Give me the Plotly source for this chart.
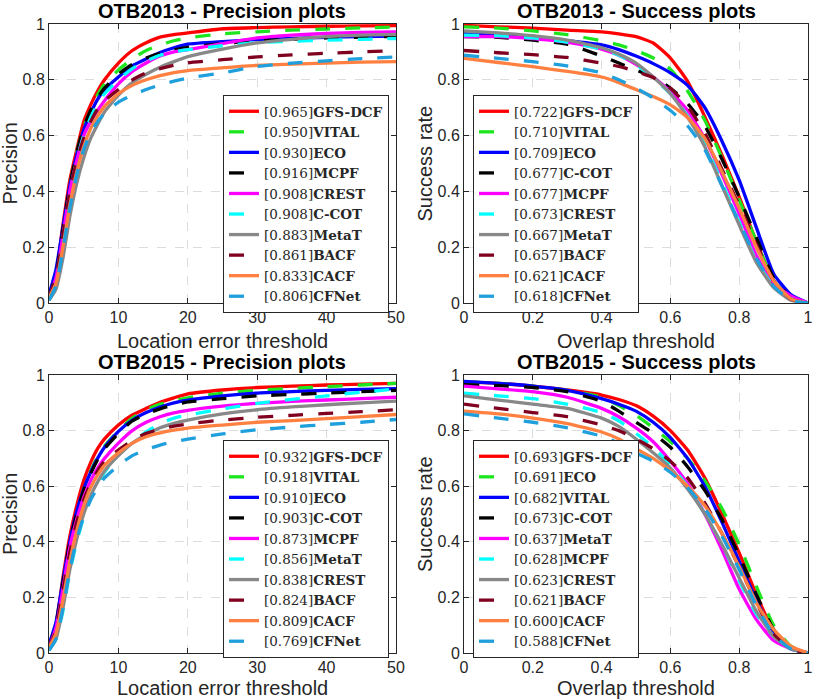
import plotly.graph_objects as go

# ---------------- DATA ----------------
PREC_T = [0, 1, 2, 3, 4, 5, 6, 7, 8, 10, 12, 14, 16, 18, 20, 25, 30, 35, 40, 45, 50]
SUCC_T = [0, 0.1, 0.2, 0.3, 0.4, 0.45, 0.5, 0.55, 0.6, 0.65, 0.7, 0.75, 0.8, 0.85, 0.9, 0.95, 1.0]

PREC_TICKS = [0, 10, 20, 30, 40, 50]
PREC_TICKTEXT = ["0", "10", "20", "30", "40", "50"]
SUCC_TICKS = [0, 0.2, 0.4, 0.6, 0.8, 1.0]
SUCC_TICKTEXT = ["0", "0.2", "0.4", "0.6", "0.8", "1"]
Y_TICKS = [0, 0.2, 0.4, 0.6, 0.8, 1.0]
Y_TICKTEXT = ["0", "0.2", "0.4", "0.6", "0.8", "1"]

# OTB2013 - Precision
P13_NAMES = ["GFS-DCF", "VITAL", "ECO", "MCPF", "CREST", "C-COT", "MetaT", "BACF", "CACF", "CFNet"]
P13_SCORES = [0.965, 0.950, 0.930, 0.916, 0.908, 0.908, 0.883, 0.861, 0.833, 0.806]
P13_CURVES = [
    [0.02, 0.10, 0.28, 0.44, 0.55, 0.65, 0.71, 0.76, 0.80, 0.86, 0.905, 0.933, 0.953, 0.962, 0.968, 0.983, 0.987, 0.99, 0.992, 0.993, 0.994],
    [0.01, 0.08, 0.25, 0.42, 0.54, 0.63, 0.69, 0.745, 0.785, 0.835, 0.875, 0.905, 0.925, 0.94, 0.95, 0.965, 0.972, 0.978, 0.982, 0.986, 0.989],
    [0.03, 0.12, 0.27, 0.42, 0.53, 0.62, 0.68, 0.73, 0.765, 0.81, 0.85, 0.875, 0.898, 0.915, 0.928, 0.937, 0.944, 0.948, 0.952, 0.955, 0.957],
    [0.02, 0.10, 0.26, 0.42, 0.54, 0.63, 0.69, 0.735, 0.77, 0.82, 0.855, 0.878, 0.895, 0.907, 0.916, 0.93, 0.94, 0.945, 0.95, 0.953, 0.956],
    [0.02, 0.09, 0.24, 0.40, 0.51, 0.60, 0.65, 0.69, 0.725, 0.785, 0.83, 0.86, 0.885, 0.90, 0.908, 0.93, 0.95, 0.96, 0.966, 0.97, 0.972],
    [0.02, 0.08, 0.23, 0.39, 0.51, 0.60, 0.665, 0.715, 0.75, 0.80, 0.84, 0.868, 0.888, 0.90, 0.908, 0.922, 0.933, 0.938, 0.942, 0.945, 0.948],
    [0.01, 0.05, 0.16, 0.31, 0.43, 0.52, 0.59, 0.64, 0.685, 0.745, 0.79, 0.82, 0.845, 0.865, 0.883, 0.91, 0.932, 0.945, 0.955, 0.96, 0.963],
    [0.02, 0.09, 0.24, 0.40, 0.51, 0.59, 0.65, 0.695, 0.725, 0.765, 0.80, 0.825, 0.84, 0.852, 0.861, 0.872, 0.882, 0.889, 0.895, 0.90, 0.905],
    [0.02, 0.07, 0.20, 0.35, 0.47, 0.56, 0.625, 0.67, 0.705, 0.75, 0.78, 0.80, 0.815, 0.826, 0.833, 0.843, 0.852, 0.856, 0.86, 0.863, 0.865],
    [0.01, 0.06, 0.19, 0.34, 0.46, 0.55, 0.61, 0.65, 0.68, 0.72, 0.745, 0.765, 0.782, 0.795, 0.806, 0.825, 0.848, 0.86, 0.868, 0.876, 0.882],
]

# OTB2013 - Success
S13_NAMES = ["GFS-DCF", "VITAL", "ECO", "C-COT", "MCPF", "CREST", "MetaT", "BACF", "CACF", "CFNet"]
S13_SCORES = [0.722, 0.710, 0.709, 0.677, 0.677, 0.673, 0.667, 0.657, 0.621, 0.618]
S13_CURVES = [
    [0.995, 0.99, 0.985, 0.978, 0.972, 0.965, 0.955, 0.932, 0.878, 0.794, 0.668, 0.53, 0.38, 0.22, 0.08, 0.02, 0],
    [0.99, 0.985, 0.975, 0.962, 0.94, 0.925, 0.905, 0.878, 0.838, 0.76, 0.655, 0.52, 0.37, 0.22, 0.08, 0.02, 0],
    [0.968, 0.962, 0.952, 0.94, 0.925, 0.908, 0.885, 0.858, 0.825, 0.78, 0.70, 0.58, 0.44, 0.27, 0.105, 0.03, 0],
    [0.955, 0.952, 0.942, 0.928, 0.885, 0.86, 0.835, 0.81, 0.77, 0.715, 0.635, 0.515, 0.38, 0.235, 0.09, 0.02, 0],
    [0.955, 0.955, 0.948, 0.935, 0.91, 0.888, 0.855, 0.81, 0.758, 0.69, 0.59, 0.46, 0.32, 0.17, 0.07, 0.025, 0],
    [0.96, 0.958, 0.95, 0.935, 0.91, 0.888, 0.855, 0.806, 0.75, 0.67, 0.57, 0.43, 0.29, 0.15, 0.06, 0.015, 0],
    [0.975, 0.968, 0.958, 0.942, 0.915, 0.892, 0.86, 0.81, 0.75, 0.665, 0.56, 0.42, 0.28, 0.145, 0.055, 0.01, 0],
    [0.905, 0.897, 0.89, 0.88, 0.86, 0.848, 0.83, 0.808, 0.77, 0.705, 0.61, 0.48, 0.35, 0.21, 0.08, 0.015, 0],
    [0.877, 0.862, 0.847, 0.83, 0.81, 0.79, 0.765, 0.74, 0.71, 0.665, 0.59, 0.47, 0.34, 0.20, 0.08, 0.015, 0],
    [0.888, 0.877, 0.865, 0.85, 0.825, 0.80, 0.77, 0.735, 0.69, 0.635, 0.55, 0.42, 0.29, 0.16, 0.06, 0.01, 0],
]

# OTB2015 - Precision
P15_NAMES = ["GFS-DCF", "VITAL", "ECO", "C-COT", "MCPF", "MetaT", "CREST", "BACF", "CACF", "CFNet"]
P15_SCORES = [0.932, 0.918, 0.910, 0.903, 0.873, 0.856, 0.838, 0.824, 0.809, 0.769]
P15_CURVES = [
    [0.02, 0.10, 0.27, 0.42, 0.53, 0.62, 0.685, 0.735, 0.77, 0.82, 0.856, 0.88, 0.902, 0.918, 0.932, 0.946, 0.955, 0.96, 0.964, 0.967, 0.97],
    [0.02, 0.09, 0.24, 0.39, 0.50, 0.59, 0.655, 0.705, 0.745, 0.80, 0.845, 0.875, 0.895, 0.908, 0.918, 0.935, 0.945, 0.952, 0.958, 0.964, 0.97],
    [0.03, 0.11, 0.26, 0.40, 0.51, 0.59, 0.65, 0.70, 0.74, 0.797, 0.838, 0.865, 0.885, 0.90, 0.91, 0.925, 0.935, 0.94, 0.945, 0.948, 0.951],
    [0.02, 0.10, 0.25, 0.40, 0.50, 0.585, 0.645, 0.695, 0.735, 0.79, 0.835, 0.86, 0.878, 0.893, 0.903, 0.915, 0.925, 0.93, 0.935, 0.94, 0.945],
    [0.02, 0.09, 0.23, 0.38, 0.48, 0.56, 0.62, 0.665, 0.70, 0.755, 0.80, 0.83, 0.85, 0.864, 0.873, 0.888, 0.898, 0.905, 0.91, 0.915, 0.92],
    [0.01, 0.05, 0.15, 0.29, 0.40, 0.49, 0.56, 0.61, 0.65, 0.715, 0.76, 0.795, 0.825, 0.845, 0.856, 0.878, 0.898, 0.912, 0.925, 0.938, 0.95],
    [0.01, 0.05, 0.16, 0.30, 0.41, 0.50, 0.565, 0.615, 0.655, 0.71, 0.755, 0.785, 0.81, 0.826, 0.838, 0.86, 0.875, 0.885, 0.893, 0.90, 0.906],
    [0.02, 0.08, 0.22, 0.36, 0.47, 0.55, 0.61, 0.655, 0.69, 0.73, 0.765, 0.79, 0.805, 0.816, 0.824, 0.838, 0.848, 0.855, 0.862, 0.868, 0.875],
    [0.02, 0.07, 0.19, 0.33, 0.44, 0.53, 0.595, 0.64, 0.675, 0.72, 0.755, 0.778, 0.792, 0.802, 0.809, 0.82, 0.83, 0.836, 0.843, 0.85, 0.858],
    [0.01, 0.05, 0.16, 0.30, 0.41, 0.49, 0.55, 0.595, 0.63, 0.675, 0.71, 0.732, 0.748, 0.76, 0.769, 0.788, 0.803, 0.813, 0.822, 0.83, 0.84],
]

# OTB2015 - Success
S15_NAMES = ["GFS-DCF", "ECO", "VITAL", "C-COT", "MetaT", "MCPF", "CREST", "BACF", "CACF", "CFNet"]
S15_SCORES = [0.693, 0.691, 0.682, 0.673, 0.637, 0.628, 0.623, 0.621, 0.600, 0.588]
S15_CURVES = [
    [0.975, 0.97, 0.96, 0.946, 0.928, 0.912, 0.89, 0.852, 0.80, 0.73, 0.63, 0.50, 0.36, 0.21, 0.08, 0.02, 0],
    [0.975, 0.97, 0.96, 0.945, 0.92, 0.89, 0.855, 0.81, 0.76, 0.70, 0.62, 0.52, 0.39, 0.24, 0.10, 0.025, 0],
    [0.977, 0.97, 0.96, 0.945, 0.915, 0.895, 0.87, 0.83, 0.775, 0.70, 0.60, 0.47, 0.33, 0.19, 0.07, 0.015, 0],
    [0.965, 0.962, 0.955, 0.94, 0.905, 0.87, 0.83, 0.79, 0.74, 0.67, 0.585, 0.48, 0.35, 0.21, 0.085, 0.02, 0],
    [0.96, 0.95, 0.94, 0.92, 0.88, 0.85, 0.81, 0.76, 0.69, 0.61, 0.50, 0.37, 0.23, 0.12, 0.045, 0.015, 0],
    [0.935, 0.925, 0.915, 0.895, 0.865, 0.835, 0.79, 0.74, 0.675, 0.60, 0.50, 0.39, 0.26, 0.14, 0.06, 0.015, 0],
    [0.925, 0.91, 0.895, 0.88, 0.845, 0.815, 0.77, 0.72, 0.665, 0.59, 0.50, 0.39, 0.27, 0.15, 0.06, 0.015, 0],
    [0.895, 0.88, 0.865, 0.85, 0.82, 0.80, 0.77, 0.735, 0.69, 0.63, 0.54, 0.43, 0.31, 0.18, 0.07, 0.015, 0],
    [0.87, 0.86, 0.845, 0.825, 0.795, 0.77, 0.735, 0.70, 0.655, 0.60, 0.53, 0.43, 0.31, 0.18, 0.085, 0.025, 0],
    [0.86, 0.845, 0.83, 0.81, 0.78, 0.755, 0.72, 0.69, 0.65, 0.595, 0.52, 0.42, 0.30, 0.17, 0.065, 0.015, 0],
]

# ---------------- STYLE (by rank) ----------------
RANK_COLORS = ["#ff0000", "#1ee61e", "#0000ff", "#000000", "#ff00ff",
               "#00ffff", "#888888", "#800020", "#ff8040", "#1f9fdc"]
RANK_DASH = ["solid", "15px,15px", "solid", "15px,15px", "solid",
             "15px,15px", "solid", "15px,15px", "solid", "15px,15px"]

W, H = 815, 700
FONT_SANS = "Liberation Sans, Arial, sans-serif"
FONT_SERIF = "DejaVu Serif, serif"


def px_x(p):
    return p / W


def px_y(p):
    return 1 - p / H


panels = [
    dict(ax="", xd=(49, 396), yd=(24, 303), leg="legend", legpos=(223, 95),
         title="OTB2013 - Precision plots", xt="Location error threshold", yt="Precision",
         x=PREC_T, names=P13_NAMES, scores=P13_SCORES, curves=P13_CURVES,
         xr=[0, 50], xtv=PREC_TICKS, xtt=PREC_TICKTEXT, xt_off=38),
    dict(ax="2", xd=(464, 808), yd=(24, 303), leg="legend2", legpos=(473, 95),
         title="OTB2013 - Success plots", xt="Overlap threshold", yt="Success rate",
         x=SUCC_T, names=S13_NAMES, scores=S13_SCORES, curves=S13_CURVES,
         xr=[0, 1], xtv=SUCC_TICKS, xtt=SUCC_TICKTEXT, xt_off=38),
    dict(ax="3", xd=(49, 396), yd=(375, 653), leg="legend3", legpos=(223, 440),
         title="OTB2015 - Precision plots", xt="Location error threshold", yt="Precision",
         x=PREC_T, names=P15_NAMES, scores=P15_SCORES, curves=P15_CURVES,
         xr=[0, 50], xtv=PREC_TICKS, xtt=PREC_TICKTEXT, xt_off=35),
    dict(ax="4", xd=(464, 808), yd=(375, 653), leg="legend4", legpos=(473, 440),
         title="OTB2015 - Success plots", xt="Overlap threshold", yt="Success rate",
         x=SUCC_T, names=S15_NAMES, scores=S15_SCORES, curves=S15_CURVES,
         xr=[0, 1], xtv=SUCC_TICKS, xtt=SUCC_TICKTEXT, xt_off=35),
]

fig = go.Figure()
layout = dict(
    template="none",
    width=W, height=H, margin=dict(l=0, r=0, t=0, b=0, pad=0, autoexpand=False),
    paper_bgcolor="white", plot_bgcolor="white", showlegend=True,
    font=dict(family=FONT_SANS, color="#262626"),
)
annotations = []

for p in panels:
    xa = "x" + p["ax"]
    ya = "y" + p["ax"]
    for i, (name, score, vals) in enumerate(zip(p["names"], p["scores"], p["curves"])):
        fig.add_trace(go.Scatter(
            x=p["x"], y=vals, mode="lines", xaxis=xa, yaxis=ya,
            name=f"[{score:.3f}]<b>{name}</b>", legend=p["leg"],
            line=dict(color=RANK_COLORS[i], width=3.3, dash=RANK_DASH[i],
                      shape="spline", smoothing=0.5),
            hoverinfo="skip",
        ))
    axis_common = dict(
        showline=True, mirror="ticks", linecolor="#262626", linewidth=1,
        ticks="inside", ticklen=5, tickcolor="#262626", tickwidth=1,
        showgrid=True, gridcolor="#dcdcdc", griddash="dash", gridwidth=1,
        zeroline=False, tickfont=dict(family=FONT_SANS, size=16, color="#262626"),
        fixedrange=True, automargin=False,
    )
    layout["xaxis" + p["ax"]] = dict(
        axis_common, domain=[px_x(p["xd"][0]), px_x(p["xd"][1])], anchor=ya,
        range=p["xr"], tickmode="array", tickvals=p["xtv"], ticktext=p["xtt"],
    )
    layout["yaxis" + p["ax"]] = dict(
        axis_common, domain=[px_y(p["yd"][1]), px_y(p["yd"][0])], anchor=xa,
        range=[0, 1], tickmode="array", tickvals=Y_TICKS, ticktext=Y_TICKTEXT,
    )
    layout[p["leg"]] = dict(
        x=px_x(p["legpos"][0]), y=px_y(p["legpos"][1]), xanchor="left", yanchor="top",
        bgcolor="white", bordercolor="#262626", borderwidth=1,
        font=dict(family=FONT_SERIF, size=13.5, color="#262626"),
        tracegroupgap=0, itemwidth=30,
    )
    cx = (p["xd"][0] + p["xd"][1]) / 2
    cy = (p["yd"][0] + p["yd"][1]) / 2
    annotations.append(dict(
        text=f"<b>{p['title']}</b>", x=px_x(cx), y=px_y(p["yd"][0] - 13),
        xref="paper", yref="paper", xanchor="center", yanchor="middle",
        showarrow=False, font=dict(family=FONT_SANS, size=20, color="black"),
    ))
    annotations.append(dict(
        text=p["xt"], x=px_x(cx), y=px_y(p["yd"][1] + p["xt_off"]),
        xref="paper", yref="paper", xanchor="center", yanchor="middle",
        showarrow=False, font=dict(family=FONT_SANS, size=20, color="#262626"),
    ))
    annotations.append(dict(
        text=p["yt"], x=px_x(p["xd"][0] - 39), y=px_y(cy),
        xref="paper", yref="paper", xanchor="center", yanchor="middle",
        textangle=-90, showarrow=False,
        font=dict(family=FONT_SANS, size=20, color="#262626"),
    ))

layout["annotations"] = annotations
fig.update_layout(**layout)
fig.write_html(
    "out.html",
    config={"displayModeBar": False},
    post_script="document.body.style.margin='0';document.body.style.overflow='hidden';",
)
